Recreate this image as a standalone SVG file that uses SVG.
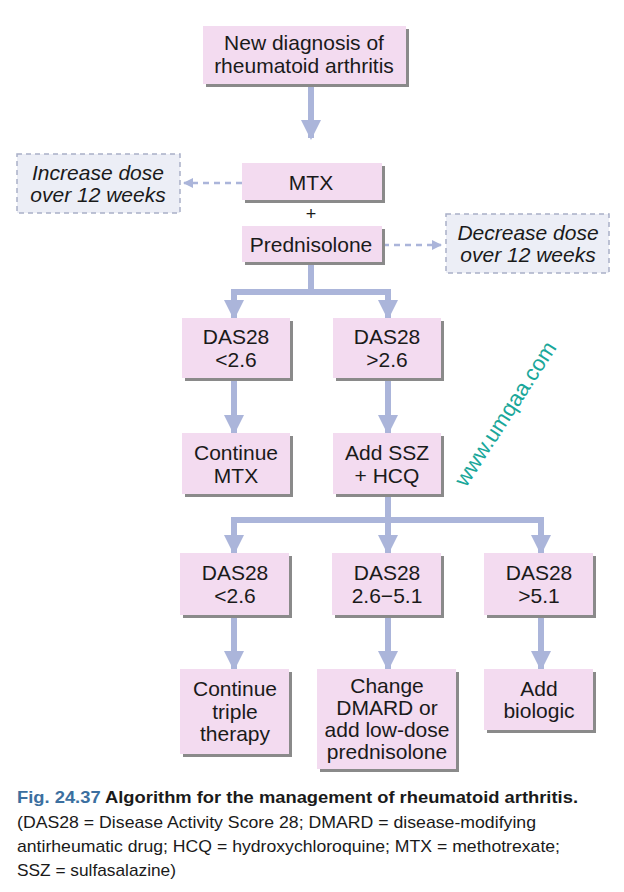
<svg xmlns="http://www.w3.org/2000/svg" width="624" height="892" viewBox="0 0 624 892">
<style>
.b{fill:#f3dbf0}
.s{fill:#8a8a8a}
.d{fill:#eceef6;stroke:#a9b0c8;stroke-width:1.5;stroke-dasharray:5,4}
text{font-family:"Liberation Sans",Arial,sans-serif;font-size:21px;fill:#1a1a1a;text-anchor:middle}
.i{font-style:italic}
.c{stroke:#abb5da;stroke-width:6;fill:none}
.dl{stroke:#abb5da;stroke-width:2.5;fill:none;stroke-dasharray:6,5}
.cap{font-size:17px;text-anchor:start}
</style>
<defs>
<marker id="a" viewBox="0 0 10 10" refX="9" refY="5" markerWidth="3.4" markerHeight="3.4" orient="auto" markerUnits="strokeWidth"><path d="M0,0L10,5L0,10z" fill="#abb5da"/></marker>
<marker id="ad" viewBox="0 0 10 10" refX="9" refY="5" markerWidth="4" markerHeight="4" orient="auto" markerUnits="strokeWidth"><path d="M0,0L10,5L0,10z" fill="#abb5da"/></marker>
</defs>
<rect width="624" height="892" fill="#fff"/>
<g id="connectors">
<path class="c" d="M311,84V138" marker-end="url(#a)"/>
<path class="dl" d="M242,183H184" marker-end="url(#ad)"/>
<path class="dl" d="M383,245H441" marker-end="url(#ad)"/>
<path class="c" d="M311,262V292M231,292H391"/>
<path class="c" d="M234,289V318" marker-end="url(#a)"/>
<path class="c" d="M388,289V318" marker-end="url(#a)"/>
<path class="c" d="M234,378V433" marker-end="url(#a)"/>
<path class="c" d="M388,378V433" marker-end="url(#a)"/>
<path class="c" d="M388,494V520M231,520H544"/>
<path class="c" d="M234,517V553" marker-end="url(#a)"/>
<path class="c" d="M388,517V553" marker-end="url(#a)"/>
<path class="c" d="M541,517V553" marker-end="url(#a)"/>
<path class="c" d="M234,615V669" marker-end="url(#a)"/>
<path class="c" d="M388,615V669" marker-end="url(#a)"/>
<path class="c" d="M541,615V669" marker-end="url(#a)"/>
</g>
<g id="n1"><rect class="s" x="206" y="29" width="203" height="58"/><rect class="b" x="203" y="26" width="203" height="58"/><text x="304" y="50">New diagnosis of</text><text x="304" y="73">rheumatoid arthritis</text></g>
<g id="mtx"><rect class="s" x="245" y="166" width="140" height="37"/><rect class="b" x="242" y="163" width="140" height="37"/><text x="311" y="190">MTX</text></g>
<text x="311" y="220" style="font-size:18px">+</text>
<g id="pred"><rect class="s" x="245" y="229" width="140" height="36"/><rect class="b" x="242" y="226" width="140" height="36"/><text x="311" y="252">Prednisolone</text></g>
<g id="inc"><rect class="d" x="17" y="154" width="163" height="59"/><text class="i" x="98" y="180">Increase dose</text><text class="i" x="98" y="202">over 12 weeks</text></g>
<g id="dec"><rect class="d" x="446" y="214" width="163" height="59"/><text class="i" x="528" y="240">Decrease dose</text><text class="i" x="528" y="262">over 12 weeks</text></g>
<g id="r2a"><rect class="s" x="185" y="321" width="108" height="60"/><rect class="b" x="182" y="318" width="108" height="60"/><text x="236" y="344">DAS28</text><text x="236" y="367">&lt;2.6</text></g>
<g id="r2b"><rect class="s" x="336" y="321" width="108" height="60"/><rect class="b" x="333" y="318" width="108" height="60"/><text x="387" y="344">DAS28</text><text x="387" y="367">&gt;2.6</text></g>
<g id="r3a"><rect class="s" x="185" y="436" width="108" height="61"/><rect class="b" x="182" y="433" width="108" height="61"/><text x="236" y="460">Continue</text><text x="236" y="483">MTX</text></g>
<g id="r3b"><rect class="s" x="336" y="436" width="108" height="61"/><rect class="b" x="333" y="433" width="108" height="61"/><text x="387" y="460">Add SSZ</text><text x="387" y="483">+ HCQ</text></g>
<g id="r4a"><rect class="s" x="183" y="556" width="109" height="62"/><rect class="b" x="180" y="553" width="109" height="62"/><text x="235" y="580">DAS28</text><text x="235" y="603">&lt;2.6</text></g>
<g id="r4b"><rect class="s" x="335" y="556" width="109" height="62"/><rect class="b" x="332" y="553" width="109" height="62"/><text x="387" y="580">DAS28</text><text x="387" y="603">2.6−5.1</text></g>
<g id="r4c"><rect class="s" x="487" y="556" width="109" height="62"/><rect class="b" x="484" y="553" width="109" height="62"/><text x="539" y="580">DAS28</text><text x="539" y="603">&gt;5.1</text></g>
<g id="r5a"><rect class="s" x="183" y="672" width="109" height="85"/><rect class="b" x="180" y="669" width="109" height="85"/><text x="235" y="696">Continue</text><text x="235" y="719">triple</text><text x="235" y="741">therapy</text></g>
<g id="r5b"><rect class="s" x="320" y="672" width="139" height="100"/><rect class="b" x="317" y="669" width="139" height="100"/><text x="387" y="693">Change</text><text x="387" y="715">DMARD or</text><text x="387" y="737">add low-dose</text><text x="387" y="759">prednisolone</text></g>
<g id="r5c"><rect class="s" x="487" y="672" width="109" height="61"/><rect class="b" x="484" y="669" width="109" height="61"/><text x="539" y="696">Add</text><text x="539" y="718">biologic</text></g>
<text x="0" y="0" transform="translate(466,488) rotate(-57)" style="font-size:22px;fill:#1aa79a;text-anchor:start">www.umqaa.com</text>
<g id="caption">
<text class="cap" x="17" y="803" textLength="561" lengthAdjust="spacingAndGlyphs" style="font-weight:bold"><tspan fill="#3b6fa0">Fig. 24.37</tspan> Algorithm for the management of rheumatoid arthritis.</text>
<text class="cap" x="17" y="828" textLength="519" lengthAdjust="spacingAndGlyphs">(DAS28 = Disease Activity Score 28; DMARD = disease-modifying</text>
<text class="cap" x="17" y="852" textLength="543" lengthAdjust="spacingAndGlyphs">antirheumatic drug; HCQ = hydroxychloroquine; MTX = methotrexate;</text>
<text class="cap" x="17" y="876" textLength="159" lengthAdjust="spacingAndGlyphs">SSZ = sulfasalazine)</text>
</g>
</svg>
